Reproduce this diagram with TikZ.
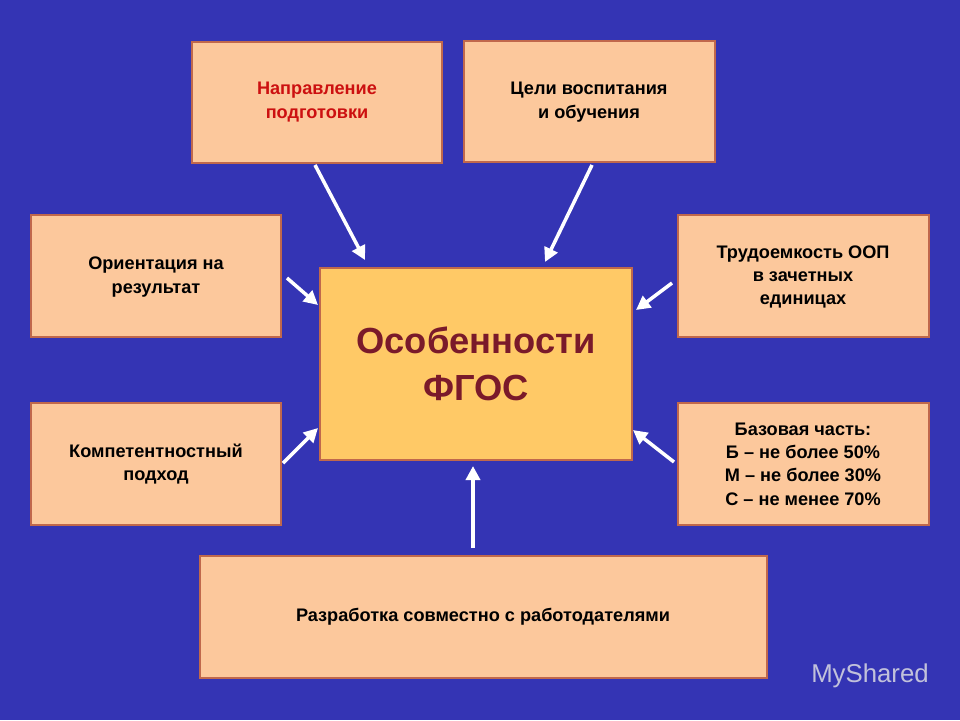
\documentclass[tikz,border=0pt]{standalone}
\usepackage{fontspec}
\setmainfont{Liberation Sans}
\definecolor{bg}{HTML}{3434B4}
\definecolor{boxf}{HTML}{FCC89C}
\definecolor{boxd}{HTML}{C0684C}
\definecolor{cenf}{HTML}{FFC966}
\definecolor{cent}{HTML}{7A1A2A}
\definecolor{redt}{HTML}{CC1010}
\begin{document}
\begin{tikzpicture}[x=0.03cm,y=-0.03cm,
  bx/.style={draw=boxd,line width=1.5pt,fill=boxf,font=\bfseries\fontsize{15.5}{20}\selectfont,align=center},
  arr/.style={draw=white,line width=3pt,-{Triangle[length=12pt,width=12pt]}}]
\usetikzlibrary{arrows.meta}
\fill[bg] (0,0) rectangle (960,720);
\useasboundingbox (0,0) rectangle (960,720);
\draw[bx] (192,42) rectangle (442,163); \node[font=\bfseries\fontsize{15.5}{20}\selectfont,align=center,text=redt] (n1) at (317,102) {Направление\\подготовки};
\draw[bx] (464,41) rectangle (715,162); \node[font=\bfseries\fontsize{15.5}{20}\selectfont,align=center] (n2) at (589,102) {Цели воспитания\\и обучения};
\draw[bx] (31,215) rectangle (281,337); \node[font=\bfseries\fontsize{15.5}{20}\selectfont,align=center] (n3) at (156,277) {Ориентация на\\результат};
\draw[bx] (678,215) rectangle (929,337); \node[font=\bfseries\fontsize{15.5}{20}\selectfont,align=center] (n4) at (803,277) {Трудоемкость ООП\\в зачетных\\единицах};
\draw[bx] (31,403) rectangle (281,525); \node[font=\bfseries\fontsize{15.5}{20}\selectfont,align=center] (n5) at (156,464) {Компетентностный\\подход};
\draw[bx] (678,403) rectangle (929,525); \node[font=\bfseries\fontsize{15.5}{20}\selectfont,align=center] (n6) at (803,464) {Базовая часть:\\Б – не более 50\%\\М – не более 30\%\\С – не менее 70\%};
\draw[bx] (200,556) rectangle (767,678); \node[font=\bfseries\fontsize{15.5}{20}\selectfont,align=center] (n7) at (483,617) {Разработка совместно с работодателями};
\draw[draw=boxd,line width=1.5pt,fill=cenf] (320,268) rectangle (632,460);
\node[font=\bfseries\fontsize{31}{40}\selectfont,align=center,text=cent] (c) at (476,364) {Особенности\\ФГОС};
\coordinate (a1s) at (315,165); \coordinate (a1e) at (365,260);
\coordinate (a2s) at (592,165); \coordinate (a2e) at (545,262);
\coordinate (a3s) at (287,278); \coordinate (a3e) at (318,305);
\coordinate (a4s) at (672,283); \coordinate (a4e) at (636,310);
\coordinate (a5s) at (283,463); \coordinate (a5e) at (318,428);
\coordinate (a6s) at (674,462); \coordinate (a6e) at (633,430);
\coordinate (a7s) at (473,548); \coordinate (a7e) at (473,466);
\foreach \i in {1,...,7} \draw[arr] (a\i s) -- (a\i e);
\node[text=white!80!gray,font=\fontsize{22}{24}\selectfont,opacity=0.8] (wm) at (870,676) {MyShared};
\end{tikzpicture}
\end{document}
